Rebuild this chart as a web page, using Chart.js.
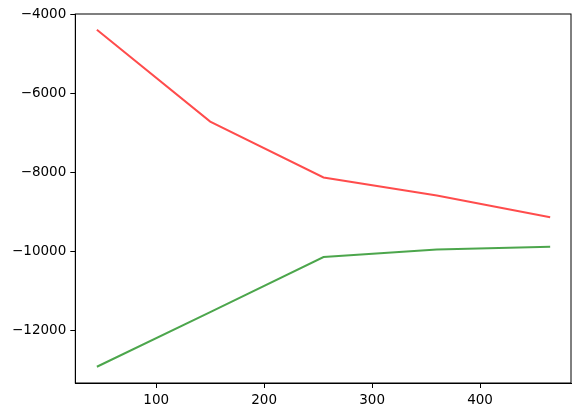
<!DOCTYPE html>
<html lang="en">
<head>
<meta charset="UTF-8">
<title>Line chart</title>
<script src="https://cdn.jsdelivr.net/npm/chart.js"></script>
<style>
  html, body { margin: 0; padding: 0; background: #ffffff; }
  #wrap { width: 581px; height: 417px; }
</style>
</head>
<body>
<div id="wrap"><canvas id="chart" width="581" height="417"></canvas></div>
<script>
// values
const xValues = [45, 150, 255, 360, 465];
const redValues = [-4380, -6710, -8125, -8585, -9135];
const greenValues = [-12925, -11540, -10145, -9955, -9880];
const xTicks = [100, 200, 300, 400];
const yTicks = [-12000, -10000, -8000, -6000, -4000];

function toPoints(xs, ys) {
  return xs.map((x, i) => ({ x: x, y: ys[i] }));
}

// matplotlib style minus sign
function fmt(v) {
  return v < 0 ? "\u2212" + Math.abs(v) : String(v);
}

// black box around the plot area
const frame = {
  id: "frame",
  afterDraw(chart) {
    const a = chart.chartArea;
    const c = chart.ctx;
    c.save();
    c.strokeStyle = "#000";
    c.lineWidth = 1;
    c.strokeRect(a.left, a.top, a.right - a.left, a.bottom - a.top);
    c.restore();
  }
};

const tickFont = { family: "DejaVu Sans", size: 13.5 };

new Chart(document.getElementById("chart"), {
  type: "line",
  data: {
    datasets: [
      {
        data: toPoints(xValues, redValues),
        borderColor: "rgba(255, 0, 0, 0.7)",
        borderWidth: 2,
        pointRadius: 0,
        tension: 0
      },
      {
        data: toPoints(xValues, greenValues),
        borderColor: "rgba(0, 128, 0, 0.7)",
        borderWidth: 2,
        pointRadius: 0,
        tension: 0
      }
    ]
  },
  options: {
    responsive: false,
    animation: false,
    layout: { padding: { top: 14, right: 10, left: 0, bottom: 0 } },
    plugins: { legend: { display: false }, tooltip: { enabled: false } },
    scales: {
      x: {
        type: "linear",
        min: 25,
        max: 484.3,
        afterBuildTicks(axis) { axis.ticks = xTicks.map(v => ({ value: v })); },
        afterFit(axis) { axis.height = 34; },
        grid: { drawOnChartArea: false, drawTicks: true, tickLength: 5, color: "#000" },
        border: { display: true, color: "#000", width: 1 },
        ticks: { color: "#000", font: tickFont, padding: 4, maxRotation: 0, callback: fmt }
      },
      y: {
        type: "linear",
        min: -13337,
        max: -3982,
        afterBuildTicks(axis) { axis.ticks = yTicks.map(v => ({ value: v })); },
        afterFit(axis) { axis.width = 75.3; },
        grid: { drawOnChartArea: false, drawTicks: true, tickLength: 5, color: "#000" },
        border: { display: true, color: "#000", width: 1 },
        ticks: { color: "#000", font: tickFont, padding: 4, callback: fmt }
      }
    }
  },
  plugins: [frame]
});
</script>
</body>
</html>
